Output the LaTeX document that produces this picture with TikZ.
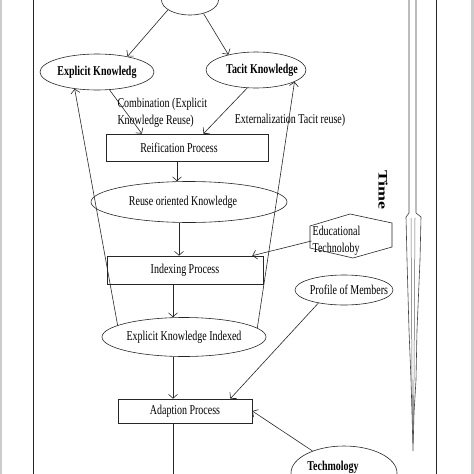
\documentclass[tikz,border=0pt]{standalone}
\usepackage{fontspec}
\setmainfont{Liberation Serif}[FakeStretch=0.74]
\newfontfamily\timefont{Liberation Serif}
\usepackage{graphicx}
\usetikzlibrary{arrows.meta,calc,positioning,shapes.geometric}

\newcommand{\dsz}{\fontsize{13.5}{16.5}\selectfont}
\newcommand{\ctr}[2][0pt]{\makebox[0pt]{\hspace*{#1}\hspace*{#1}#2}}

\begin{document}
\begin{tikzpicture}[x=1pt,y=-1pt,
  every node/.style={font=\dsz},
  know/.style={ellipse, draw=black!85, line width=0.6pt, inner sep=0pt},
  proc/.style={rectangle, draw=black!85, line width=0.6pt, inner sep=0pt},
  arr/.style={-{Straight Barb[length=4pt,width=9pt]}},
  ln/.style={line width=0.6pt, black!85}]
\useasboundingbox (0,0) rectangle (474,474);
\begin{scope}
\clip (0,0) rectangle (474,474);

% Frame
\fill[black!20] (0,0) rectangle (2,474);
\fill[black!20] (471,0) rectangle (474,474);
\draw[ln] (33,-2) -- (33,476);
\draw[ln] (436,-2) -- (436,476);

% Knowledge and processes
\node[know, minimum width=57pt, minimum height=30pt] (src) at (190,0) {};
\node[know, minimum width=114pt, minimum height=36pt, font=\dsz\bfseries] (expl) at (97,72) {\ctr{Explicit Knowledg}};
\node[know, minimum width=100pt, minimum height=36pt, font=\dsz\bfseries] (tacit) at (256,70) {\ctr[6pt]{Tacit Knowledge}};
\node[proc, minimum width=162pt, minimum height=27pt] (reif) at (187,147.5) {\ctr[-8pt]{Reification Process}};
\node[know, minimum width=196pt, minimum height=41pt] (reuse) at (189,202) {\ctr[-6pt]{Reuse oriented Knowledge}};
\node[proc, minimum width=156pt, minimum height=28pt] (index) at (185,270) {Indexing Process};
\node[know, minimum width=164pt, minimum height=39pt] (eki) at (184,337) {\ctr{Explicit Knowledge Indexed}};
\node[proc, minimum width=134pt, minimum height=24pt] (adapt) at (185,411) {Adaption Process};

% Side inputs
\node[align=left, inner sep=1pt] (edu) at (336.5,241) {Educational\\Technoloby};
\draw[ln] (310,226) -- (350,214) -- (392,223) -- (392,247) -- (353,258) -- (310,248) -- cycle;
\node[know, minimum width=98pt, minimum height=30pt] (prof) at (344,290) {\ctr[5pt]{Profile of Members}};
\node[know, minimum width=106pt, minimum height=54pt] (tech) at (344,473) {};
\node[font=\dsz\bfseries] (techtxt) at (333,467) {Techmology};

% Labels
\node[align=left, anchor=west] (comb) at (114,113) {Combination (Explicit\\Knowledge Reuse)};
\node (ext) at (290,120) {Externalization Tacit reuse)};

% Arrows
\draw[ln, arr] (src.204) -- (expl.27);
\draw[ln, arr] (src.-45) -- (tacit.151);
\draw[ln, arr] (expl.-55) -- (reif.163);
\draw[ln, arr] (tacit.244) -- (reif.40);
\draw[ln, arr] (eki.170) -- (expl.217);
\draw[ln, arr] (eki.7) -- (tacit.-17);
\draw[ln, arr] ($(reif.south)+(-10,0)$) -- ($(reuse.north)+(-12,0)$);
\draw[ln, arr] ($(reuse.south)+(-10,0)$) -- ($(index.north)+(-6,0)$);
\draw[ln, arr] ($(index.south)+(-12,0)$) -- ($(eki.north)+(-11,0)$);
\draw[ln, arr] ($(eki.south)+(-11,0)$) -- ($(adapt.north)+(-12,0)$);
\draw[ln, arr] (edu.west) -- ($(index.north east)+(-11,0)$);
\draw[ln, arr] (prof.207) -- ($(adapt.north east)+(-22,0)$);
\draw[ln, arr] (tech.145) -- (adapt.east);
\coordinate (bot) at (173,480);
\draw[ln] ($(adapt.south)+(-12,0)$) -- (bot);

% Time
\node[rotate=-90, font=\timefont\bfseries\fontsize{18}{20}\selectfont] (time) at (383,190) {\scalebox{1}[0.72]{Time}};
\draw[black!75, line width=0.6pt] (409,-2) -- (409,213) -- (406,217) -- (407,260) -- (409,330) -- (411,380) -- (412,413) -- (413,451) -- (414,413) -- (416,380) -- (417,330) -- (420,260) -- (421,217) -- (416,213) -- (416,-2);
\draw[black!60, line width=0.5pt] (411,218) -- (412,380) -- (413,440) -- (414,380) -- (415,218);
\end{scope}
\end{tikzpicture}
\end{document}
